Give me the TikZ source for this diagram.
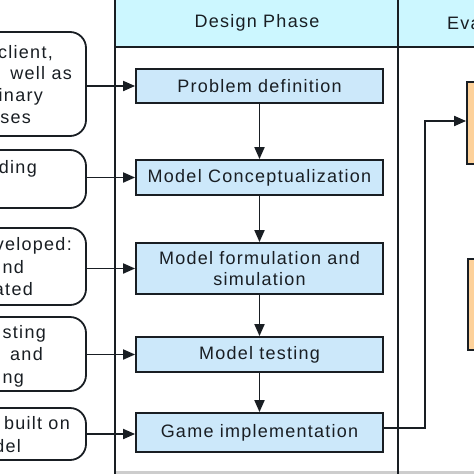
\documentclass[tikz,border=0pt]{standalone}
\usepackage{fontspec}
\setmainfont{Liberation Sans}[LetterSpace=7]
\usetikzlibrary{arrows.meta}
\definecolor{hdr}{RGB}{204,247,255}
\definecolor{bbox}{RGB}{204,232,250}
\definecolor{obox}{RGB}{253,209,154}
\definecolor{gband}{RGB}{205,205,205}
\definecolor{ink}{RGB}{25,30,35}
\tikzset{
  stepbox/.style={draw=ink, line width=1.8pt, fill=bbox, minimum width=247pt, inner sep=0pt,
    align=center, text=ink, font=\fontsize{18pt}{21pt}\selectfont},
  orbox/.style={draw=ink, line width=1.8pt, fill=obox, inner sep=0pt},
  inbox/.style={draw=ink, line width=1.8pt, rounded corners=16pt, inner sep=0pt, minimum width=116pt},
  arr/.style={line width=1.8pt, draw=ink, -{Triangle[length=12pt,width=10pt]}},
  lane/.style={line width=1.6pt, draw=ink},
  frag/.style={anchor=base east, inner sep=0pt, text=ink, font=\fontsize{18pt}{21pt}\selectfont},
  hdrtext/.style={inner sep=0pt, text=ink, font=\fontsize{18pt}{21pt}\selectfont}
}
\begin{document}
\begin{tikzpicture}[x=1pt,y=-1pt]
\useasboundingbox (0,0) rectangle (474,474);
\fill[white] (0,0) rectangle (474,474);
% header
\fill[hdr] (115,-2) rectangle (480,47);
\fill[gband] (115,471) rectangle (480,476);
\draw[lane] (115,-2) -- (115,476);
\draw[lane] (398,-2) -- (398,476);
\draw[lane] (115,47) -- (480,47);
\node[hdrtext] (h1) at (257,23) {Design Phase};
\node[hdrtext, anchor=west] (h2) at (447,23) {Eva};
% left input boxes
\node[inbox, minimum height=104pt] (l1) at (28,84) {};
\node[inbox, minimum height=58pt] (l2) at (28,179) {};
\node[inbox, minimum height=77pt] (l3) at (28,266.5) {};
\node[inbox, minimum height=74pt] (l4) at (28,354) {};
\node[inbox, minimum height=52pt] (l5) at (28,434) {};
% left fragments
\node[frag] (t1a) at (53,58) {client,};
\node[frag] (t1b) at (72,79) {well as};
\node[frag] (t1c) at (43,101) {inary};
\node[frag] (t1d) at (31,123) {ses};
\node[frag] (t2a) at (37,173) {ding};
\node[frag] (t3a) at (72,250) {veloped:};
\node[frag] (t3b) at (24,273) {nd};
\node[frag] (t3c) at (33,295) {ated};
\node[frag] (t4a) at (46,338) {sting};
\node[frag] (t4b) at (43,360) {and};
\node[frag] (t4c) at (24,383) {ng};
\node[frag] (t5a) at (70,429) {built on};
\node[frag] (t5b) at (21,452) {del};
% design steps
\node[stepbox, minimum height=34pt] (b1) at (259.5,86) {Problem definition};
\node[stepbox, minimum height=35pt] (b2) at (259.5,177.5) {Model Conceptualization};
\node[stepbox, minimum height=51pt] (b3) at (259.5,268.5) {Model formulation and\\simulation};
\node[stepbox, minimum height=35pt] (b4) at (259.5,354.5) {Model testing};
\node[stepbox, minimum height=39pt] (b5) at (259.5,432.5) {Game implementation};
% orange boxes (evaluation lane)
\node[orbox, minimum width=53pt, minimum height=82pt] (o1) at (493.5,123) {};
\node[orbox, minimum width=52pt, minimum height=91pt] (o2) at (494,304.5) {};
% arrows from inputs
\draw[arr] (l1.east |- b1.west) -- (b1.west);
\draw[arr] (l2.east |- b2.west) -- (b2.west);
\draw[arr] (l3.east |- b3.west) -- (b3.west);
\draw[arr] (l4.east |- b4.west) -- (b4.west);
\draw[arr] (l5.east) -- (l5.east -| b5.west);
% vertical arrows
\draw[arr] (b1) -- (b2);
\draw[arr] (b2) -- (b3);
\draw[arr] (b3) -- (b4);
\draw[arr] (b4) -- (b5);
% connector to evaluation
\coordinate (c1) at (425,121);
\draw[arr] ([yshift=4.5pt]b5.east) -| (c1) -- (c1 -| o1.west);
\end{tikzpicture}
\end{document}
